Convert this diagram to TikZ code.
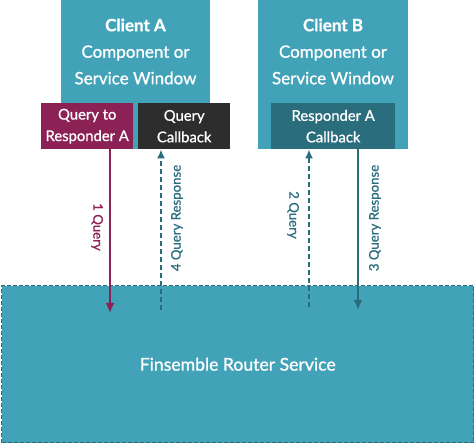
\documentclass[tikz,border=0pt]{standalone}
\usepackage{fontspec}
\setmainfont{Lato}[RawFeature={embolden=0.9}]
\usetikzlibrary{arrows.meta,positioning,calc}
\definecolor{fsteal}{HTML}{42A3B8}
\definecolor{fsdark}{HTML}{2A6E7D}
\definecolor{fsmag}{HTML}{8C2156}
\definecolor{fsblack}{HTML}{2D2D2D}
\tikzset{
  winbox/.style={fill=fsteal,draw=none,inner sep=0pt,anchor=north west},
  subbox/.style={draw=none,inner sep=0pt,anchor=north west,minimum height=46pt,
    text=white,align=center,font=\fontsize{14.8}{21.5}\selectfont},
  wintext/.style={text=white,align=center,font=\fontsize{17}{26.5}\selectfont},
  solidarrow/.style={line width=2.6pt,-{Latex[length=10pt,width=9pt]}},
  dasharrow/.style={line width=1.8pt,dash pattern=on 5pt off 3pt,draw=fsdark,
    -{Latex[length=9pt,width=8pt]}},
  arrowlabel/.style={font=\fontsize{13.2}{15}\selectfont,inner sep=0pt}
}
\begin{document}
\begin{tikzpicture}[x=1pt,y=-1pt,line cap=butt]
\useasboundingbox (0,0) rectangle (474,443);
% router
\node[winbox,draw=fsdark,line width=1.4pt,dash pattern=on 4pt off 2pt,
  minimum width=472pt,minimum height=157pt,text=white,
  font=\fontsize{17.6}{20}\selectfont] (router) at (1,285) {Finsemble Router Service};
% client windows
\node[winbox,minimum width=149pt,minimum height=149pt] (clientA) at (61,0) {};
\node[winbox,minimum width=150pt,minimum height=149pt] (clientB) at (258,0) {};
\node[wintext] (clientAtxt) at (135.5,51.5) {\textbf{Client A}\\Component or\\Service Window};
\node[wintext] (clientBtxt) at (333,51.5) {\textbf{Client B}\\Component or\\Service Window};
% sub boxes
\node[subbox,fill=fsmag,minimum width=92pt] (qryA) at (41,103) {Query to\\Responder A};
\node[subbox,fill=fsblack,minimum width=92pt] (cbA) at (138,103) {Query\\Callback};
\node[subbox,fill=fsdark,minimum width=124pt] (respB) at (271,103) {Responder A\\Callback};
% arrow ends
\coordinate (q1end) at (110,313);
\coordinate (q4start) at (161,310);
\coordinate (q2start) at (309,307);
\coordinate (q3end) at (358,310);
% messages
\draw[solidarrow,draw=fsmag,fill=fsmag] (q1end |- qryA.south) -- (q1end);
\draw[dasharrow] (q4start) -- (q4start |- cbA.south);
\draw[dasharrow] (q2start) -- (q2start |- respB.south);
\draw[solidarrow,draw=fsdark,fill=fsdark] (q3end |- respB.south) -- (q3end);
% labels
\node[arrowlabel,rotate=-90,text=fsmag] (lbl1) at (97,227) {1 Query};
\node[arrowlabel,rotate=90,text=fsdark] (lbl4) at (177,218) {4 Query Response};
\node[arrowlabel,rotate=-90,text=fsdark] (lbl2) at (293,215) {2 Query};
\node[arrowlabel,rotate=90,text=fsdark] (lbl3) at (375,218) {3 Query Response};
\end{tikzpicture}
\end{document}
